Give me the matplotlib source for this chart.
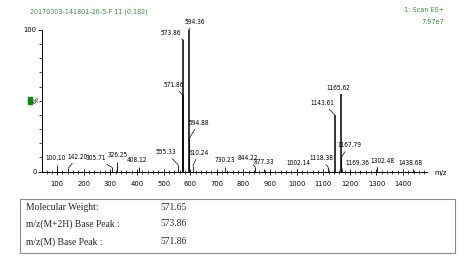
import matplotlib
matplotlib.use('Agg')
import matplotlib.pyplot as plt
from matplotlib.patches import Rectangle
from matplotlib import font_manager

# peak list (m/z, relative intensity %)
mz = [100.10, 142.20, 305.71, 326.25, 408.12, 555.33, 571.86, 573.86, 594.36,
      594.88, 610.24, 730.23, 844.22, 877.33, 1002.14, 1118.38, 1143.61,
      1165.62, 1167.79, 1169.36, 1302.48, 1438.68]
intensity = [4.6, 2.5, 3, 6.5, 3, 4.5, 54, 93, 100,
             23, 4, 3, 3, 1.5, 2, 3, 40,
             55, 10, 2, 3, 2]

title = '20170303-141801-26-5-F 11 (0.182)'
scan_info = ['1: Scan ES+', '7.97e7']
table_keys = ['Molecular Weight:', 'm/z(M+2H) Base Peak :', 'm/z(M) Base Peak :']
table_vals = ['571.65', '573.86', '571.86']

# label placement (pixel offsets from peak top: dx, up)
label_pos = {
    100.10: (-2, 7), 142.20: (9, 11), 305.71: (-16, 9), 326.25: (0, 7),
    408.12: (-2, 7), 555.33: (-12, 13), 571.86: (-9, 10), 573.86: (-12, 7),
    594.36: (6, 8), 594.88: (10, 16), 610.24: (6, 13), 844.22: (-7, 9),
    1002.14: (1, 6), 1118.38: (-7, 9), 1143.61: (-12, 12), 1165.62: (-2, 6),
    1167.79: (8, 12), 1169.36: (16, 6), 1302.48: (5, 6), 1438.68: (-3, 6),
}

names = {f.name for f in font_manager.fontManager.ttflist}
narrow_fp = dict(family=['Liberation Sans Narrow', 'DejaVu Sans'], stretch='condensed')
if 'Liberation Sans Narrow' not in names:
    narrow_fp = dict(family=['DejaVu Sans'], stretch='condensed')

green = '#3d8f3d'
serif = ['Liberation Serif', 'DejaVu Serif']
fs = 4.7

fig = plt.figure(figsize=(4.74, 2.76), dpi=100)
ax = fig.add_axes([42 / 474, 1 - 171.5 / 276, (427 - 42) / 474, 141.5 / 276])

for m, h in zip(mz, intensity):
    lw = 1.1 if h > 30 else 0.6
    ax.vlines(m, 0, h, color='black', lw=lw)
    dx, up = label_pos.get(m, (0, 7))
    leader = abs(dx) > 3 or up > 8
    ax.annotate('%.2f' % m, xy=(m, h), xytext=(dx, up), textcoords='offset pixels',
                ha='center', va='center', fontsize=fs, annotation_clip=False,
                arrowprops=dict(arrowstyle='-', lw=0.5, color='black',
                                shrinkA=0.5, shrinkB=0) if leader else None,
                **narrow_fp)

ax.set_xlim(43, 1490)
ax.set_ylim(0, 100)
ax.set_xticks(range(100, 1401, 100))
ax.set_xticks(range(60, 1490, 20), minor=True)
ax.set_yticks([0, 100])
ax.set_yticks(range(10, 100, 10), minor=True)
ax.tick_params(axis='x', which='major', direction='inout', length=5, width=0.6, pad=4,
               labelsize=5.4)
ax.tick_params(axis='x', which='minor', direction='inout', length=3, width=0.5)
ax.tick_params(axis='y', which='major', direction='out', length=3, width=0.6, pad=1,
               labelsize=5.4)
ax.tick_params(axis='y', which='minor', direction='out', length=2, width=0.5)
for lab in ax.get_xticklabels() + ax.get_yticklabels():
    lab.set_family(narrow_fp['family'])
    lab.set_stretch('condensed')
for s in ['top', 'right']:
    ax.spines[s].set_visible(False)
for s in ['left', 'bottom']:
    ax.spines[s].set_linewidth(0.7)

fig.text(434 / 474, 1 - 173 / 276, 'm/z', fontsize=5.4, va='center', **narrow_fp)
fig.text(37 / 474, 1 - 100 / 276, '%', fontsize=5, rotation=90,
         ha='center', va='center', **narrow_fp)
fig.patches.append(Rectangle((28 / 474, 1 - 104 / 276), 4 / 474, 7 / 276,
                             transform=fig.transFigure, color='#0a8a0a', figure=fig))

fig.text(30 / 474, 1 - 12 / 276, title, color=green, fontsize=5.1, va='center', **narrow_fp)
fig.text(444 / 474, 1 - 10 / 276, scan_info[0], color=green, fontsize=5.2,
         ha='right', va='center', **narrow_fp)
fig.text(444 / 474, 1 - 22 / 276, scan_info[1], color=green, fontsize=5.2,
         ha='right', va='center', **narrow_fp)

# info table below the spectrum
fig.patches.append(Rectangle((20 / 474, 1 - 253 / 276), 435 / 474, 54 / 276,
                             transform=fig.transFigure, fill=False,
                             edgecolor='#8a8a8a', lw=0.8, figure=fig))
for i, (k, v) in enumerate(zip(table_keys, table_vals)):
    y = 1 - [207, 224, 242][i] / 276
    fig.text(26 / 474, y, k, fontsize=6.9, family=serif, va='center', color='#222222')
    fig.text(160 / 474, y, v, fontsize=6.9, family=serif, va='center', color='#222222')

fig.savefig('out.png', dpi=100)
